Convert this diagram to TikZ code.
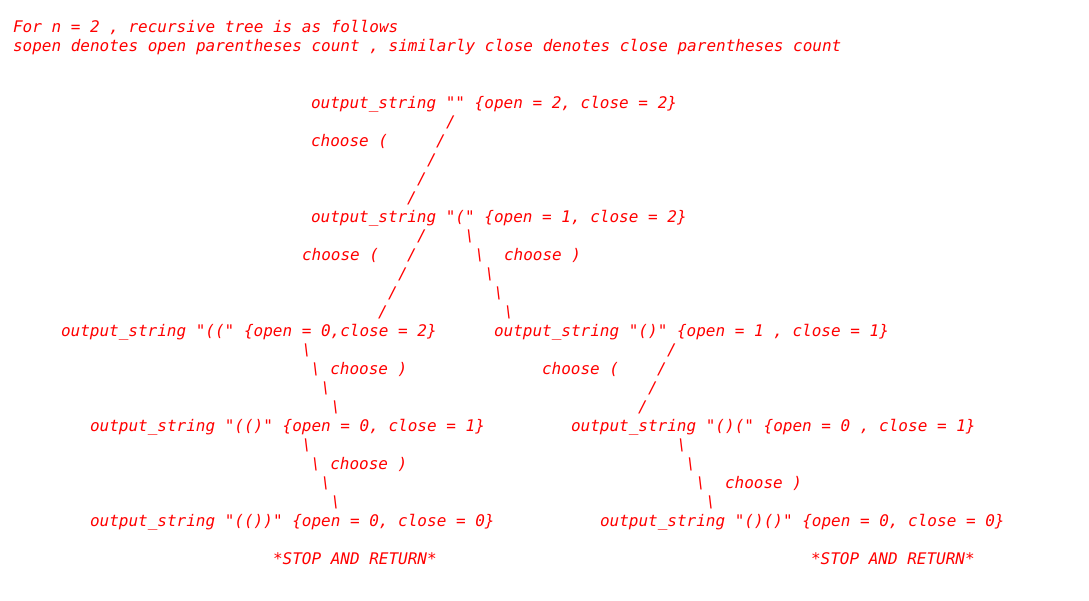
\documentclass[tikz,border=0pt]{standalone}
\usepackage{fontspec}
\newfontfamily\monoit{DejaVu Sans Mono Oblique}
\begin{document}
\begin{tikzpicture}[x=1pt,y=-1pt,
  txt/.style={anchor=base west,inner sep=0pt,outer sep=0pt,text=red,font=\monoit\fontsize{16}{19}\selectfont}]
\useasboundingbox (0,0) rectangle (1089,600);
\newcommand\Lt[3]{\node[txt] at (#1,#2+5) {#3};}
\newcommand\bs{\textbackslash}
\Lt{13}{27}{For n = 2 , recursive tree is as follows}
\Lt{13}{46}{sopen denotes open parentheses count , similarly close denotes close parentheses count}
\Lt{311}{103}{output\_string "" \{open = 2, close = 2\}}
\Lt{446}{122}{/}
\Lt{311}{141}{choose (}\Lt{436}{141}{/}
\Lt{427}{160}{/}
\Lt{417}{179}{/}
\Lt{407}{198}{/}
\Lt{311}{217}{output\_string "(" \{open = 1, close = 2\}}
\Lt{417}{236}{/}\Lt{465}{236}{\bs}
\Lt{302}{255}{choose (}\Lt{407}{255}{/}\Lt{475}{255}{\bs}\Lt{504}{255}{choose )}
\Lt{398}{274}{/}\Lt{485}{274}{\bs}
\Lt{388}{293}{/}\Lt{494}{293}{\bs}
\Lt{378}{312}{/}\Lt{504}{312}{\bs}
\Lt{61}{331}{output\_string "((" \{open = 0,close = 2\}}
\Lt{494}{331}{output\_string "()" \{open = 1 , close = 1\}}
\Lt{302}{350}{\bs}\Lt{667}{350}{/}
\Lt{311}{369}{\bs{} choose )}\Lt{542}{369}{choose (}\Lt{657}{369}{/}
\Lt{321}{388}{\bs}\Lt{648}{388}{/}
\Lt{331}{407}{\bs}\Lt{638}{407}{/}
\Lt{90}{426}{output\_string "(()" \{open = 0, close = 1\}}
\Lt{571}{426}{output\_string "()(" \{open = 0 , close = 1\}}
\Lt{302}{445}{\bs}\Lt{677}{445}{\bs}
\Lt{311}{464}{\bs{} choose )}\Lt{686}{464}{\bs}
\Lt{321}{483}{\bs}\Lt{696}{483}{\bs}\Lt{725}{483}{choose )}
\Lt{331}{502}{\bs}\Lt{706}{502}{\bs}
\Lt{90}{521}{output\_string "(())" \{open = 0, close = 0\}}
\Lt{600}{521}{output\_string "()()" \{open = 0, close = 0\}}
\Lt{273}{559}{*STOP AND RETURN*}
\Lt{811}{559}{*STOP AND RETURN*}
\end{tikzpicture}
\end{document}
